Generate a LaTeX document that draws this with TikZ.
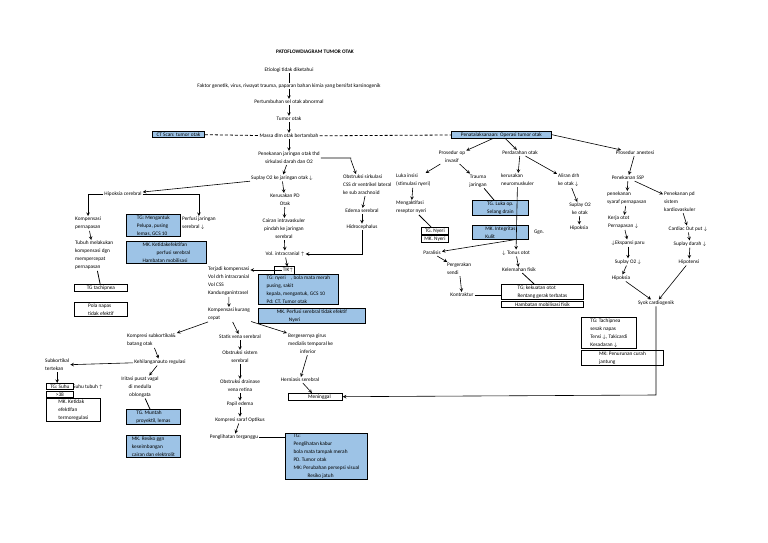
\documentclass[tikz,border=0pt]{standalone}
\usepackage{fontspec}
\setmainfont{Carlito}
\usepackage{tikz}
\usetikzlibrary{arrows}
\definecolor{blu}{RGB}{157,195,230}
\tikzstyle{txt} = [align=center, inner sep=1pt, font=\fontsize{5.3}{8}\selectfont]
\tikzstyle{ltxt} = [align=left, inner sep=1pt, anchor=north west, font=\fontsize{5.3}{8}\selectfont]
\tikzstyle{bx} = [draw=black, thick, align=left, anchor=north west, inner sep=1pt, font=\fontsize{5.3}{8}\selectfont]
\tikzstyle{bbx} = [bx, fill=blu]
\tikzstyle{arrow} = [semithick,->,>=stealth]
\tikzstyle{dashln} = [thick, densely dashed]
\begin{document}
\begin{tikzpicture}[x=1pt,y=-1pt]
\useasboundingbox (0,0) rectangle (768,543);
% tengah
\node (title) [txt, font=\fontsize{5.3}{8}\selectfont\bfseries] at (315,52) {PATOFLOWDIAGRAM TUMOR OTAK};
\node (etio) [txt] at (289,70) {Etiologi tidak diketahui};
\node (faktor) [txt] at (289,86) {Faktor genetik, virus, riwayat trauma, paparan bahan kimia yang bersifat karsinogenik};
\node (tumbuh) [txt] at (289,102) {Pertumbuhan sel otak abnormal};
\node (tumor) [txt] at (289,119) {Tumor otak};
\node (massa) [txt] at (289,136) {Massa dlm otak bertambah};
\node (ct) [bbx, minimum width=52pt] at (152,131) {CT Scan: tumor otak};
\node (ops) [bbx, minimum width=100pt] at (451,131) {Penatalaksanaan: Operasi tumor otak};
\node (tekan) [txt] at (289,158) {Penekanan jaringan otak thd\\sirkulasi darah dan O2};
\node (suplay) [txt] at (282,178) {Suplay O2 ke jaringan otak $\downarrow$};
\node (obs) [ltxt] at (342,174) {Obstruksi sirkulasi\\CSS dr ventrikel lateral\\ke sub arachnoid};
\node (edema) [txt] at (362,211) {Edema serebral};
\node (hidro) [txt] at (362,227) {Hidrocephalus};
\node (hipok) [txt] at (123,194) {Hipoksia cerebral};
\node (rusak) [txt] at (285,200) {Kerusakan PD\\Otak};
\node (cairan) [txt] at (284,229) {Cairan intravaskuler\\pindah ke jaringan\\serebral};
\node (vol) [txt] at (285,254) {Vol. intracranial $\uparrow$};
\node (tik) [txt] at (288,270) {TIK$\uparrow$};
% kiri
\node (kompnap) [ltxt] at (74,216) {Kompensasi\\pernapasan};
\node (tubuh) [ltxt] at (74,240) {Tubuh melakukan\\kompensasi dgn\\mempercepat\\pernapasan};
\node (tgtach) [bx, minimum width=53pt] at (74,284) {TG tachipnea};
\node (pola) [bx, minimum width=53pt] at (74,302) {Pola napas\\tidak efektif};
\node (tgme) [bbx, minimum width=54pt] at (126,214) {TG: Mengantuk\\Pelupa, pusing\\lemas, GCS 10};
\node (mkper) [bbx, minimum width=80pt] at (126,241) {MK. Ketidakefektifan\\\hspace{14pt}perfusi serebral\\Hambatan mobilisasi};
\node (perf) [ltxt] at (181,216) {Perfusi jaringan\\serebral $\downarrow$};
\node (terjadi) [ltxt] at (207,266) {Terjadi kompensasi\\Vol drh intracranial\\Vol CSS\\Kandunganintrasel};
\node (kurang) [ltxt] at (207,307) {Kompensasi kurang\\cepat};
\node (kecil) [bx, minimum width=20pt, minimum height=8pt] at (274,266) {};
\node (tgny) [bbx, minimum width=80pt] at (258,274) {TG: nyeri\quad, bola mata merah\\pusing, sakit\\kepala, mengantuk, GCS 10\\Pd: CT. Tumor otak};
\node (mkny) [bbx, minimum width=107pt] at (258,308) {MK. Perfusi serebral tidak efektif\\\hspace{12pt}Nyeri};
% bawah kiri
\node (kompr) [ltxt] at (126,333) {Kompresi subkortikal\&\\batang otak};
\node (statis) [txt] at (240,337) {Statis vena serebral};
\node (geser) [ltxt] at (287,333) {Bergesernya girus\\medialis temporal ke\\\hspace{12pt}inferior};
\node (hilang) [txt] at (160,362) {Kehilanganauto regulasi};
\node (subk) [ltxt] at (44,358) {Subkortikal\\tertekan};
\node (obsis) [txt] at (240,357) {Obstruksi sistem\\serebral};
\node (herni) [txt] at (300,380) {Herniasis serebral};
\node (irit) [txt] at (140,387) {Iritasi pusat vagal\\di medulla\\oblongata};
\node (obdr) [txt] at (240,386) {Obstruksi drainase\\vena retina};
\node (mati) [bx, minimum width=54pt] at (288,393) {\hspace{8pt}Meninggal};
\node (tgsu) [bx, minimum width=27pt] at (46,383) {TG: Suhu};
\node (tgsu2) [bx, minimum width=27pt] at (46,391) {>38};
\node (suhu) [txt] at (88,387) {Suhu tubuh $\uparrow$};
\node (mksu) [bx, minimum width=54pt] at (46,398) {MK. Ketidak\\efektifan\\termoregulasi};
\node (tgmu) [bbx, minimum width=54pt] at (126,409) {TG. Muntah\\proyektil, lemas};
\node (papil) [txt] at (240,404) {Papil edema};
\node (saraf) [txt] at (240,420) {Kompresi saraf Optikus};
\node (mkres) [bbx, minimum width=54pt] at (126,435) {MK. Resiko ggn\\keseimbangan\\cairan dan elektrolit};
\node (lihat) [txt] at (234,437) {Penglihatan terganggu};
\node (tgli) [bbx, minimum width=82pt] at (285,433) {TG:\\Penglihatan kabur\\bola mata tampak merah\\PD. Tumor otak\\MK: Perubahan persepsi visual\\\hspace{14pt}Resiko jatuh};
% kanan
\node (pros) [txt] at (452,157) {Prosedur op\\invasif};
\node (perd) [txt] at (520,153) {Perdarahan otak};
\node (anes) [txt] at (635,153) {Prosedur anestesi};
\node (luka) [ltxt] at (395,173) {Luka insisi\\(stimulasi nyeri)};
\node (trauma) [txt] at (478,181) {Trauma\\jaringan};
\node (rusnm) [ltxt] at (500,173) {kerusakan\\neuromuskuler};
\node (aliran) [ltxt] at (557,173) {Aliran drh\\ke otak $\downarrow$};
\node (ssp) [txt] at (628,178) {Penekanan SSP};
\node (aktif) [ltxt] at (395,200) {Mengaktifasi\\reseptor nyeri};
\node (tglu) [bbx, minimum width=56pt] at (472,200) {TG. Luka op.\\Selang drain};
\node (mkin) [bbx, minimum width=56pt] at (472,225) {MK. Integritas\\Kulit};
\node (ggn) [txt] at (539,232) {Ggn.};
\node (tgn2) [bx, minimum width=27pt] at (421,227) {TG. Nyeri};
\node (mkn2) [bx, minimum width=27pt] at (421,235) {MK. Nyeri};
\node (sup2) [txt] at (580,209) {Suplay O2\\ke otak};
\node (hip2) [txt] at (579,228) {Hipoksia};
\node (syaraf) [ltxt] at (606,191) {penekanan\\syaraf pernapasan};
\node (kardio) [ltxt] at (663,191) {Penekanan pd\\sistem\\kardiovaskuler};
\node (kerja) [ltxt] at (607,215) {Kerja otot\\Pernapasan $\downarrow$};
\node (cardiac) [txt] at (688,229) {Cardiac Out put $\downarrow$};
\node (eksp) [txt] at (628,243) {$\downarrow$Ekspansi paru};
\node (supdr) [txt] at (690,244) {Suplay darah $\downarrow$};
\node (sup3) [txt] at (628,262) {Suplay O2 $\downarrow$};
\node (hipot) [txt] at (689,262) {Hipotensi};
\node (hip3) [txt] at (621,278) {Hipoksia};
\node (syok) [txt] at (656,303) {Syok cardiogenik};
\node (paral) [txt] at (432,253) {Paralisis};
\node (tonus) [txt] at (516,253) {$\downarrow$ Tonus otot};
\node (gerak) [ltxt] at (446,262) {Pergerakan\\sendi};
\node (lemah) [txt] at (519,270) {Kelemahan fisik};
\node (kontr) [txt] at (462,295) {Kontraktur};
\node (tgke) [bx, minimum width=82pt] at (501,284) {TG; kekuatan otot\\Rentang gerak terbatas};
\node (hamb) [bx, minimum width=82pt] at (501,301) {Hambatan mobilisasi fisik};
\node (tgta) [bx, minimum width=55pt] at (581,317) {TG: Tachipnea\\sesak napas\\Tensi $\downarrow$, Takicardi\\Kesadaran $\downarrow$};
\node (mkpe) [bx, minimum width=82pt] at (581,350) {MK: Penurunan curah\\jantung};
% panah tengah
\draw[thick] (etio) -- (faktor);
\draw[arrow] (faktor) -- (tumbuh);
\draw[arrow] (tumbuh) -- (tumor);
\draw[arrow] (tumor) -- (massa);
\draw[dashln] (ct) -- (massa);
\draw[dashln] (massa) -- (ops);
\draw[arrow] (massa) -- (tekan);
\draw[arrow] (tekan) -- (suplay);
\draw[arrow] (tekan.east) -- ++(30,0) -- ++(0,2) -- (obs.north -| 356,0);
\draw[arrow] (obs) -- (edema);
\draw[arrow] (edema) -- (hidro);
\draw[arrow] (hidro) |- (vol.east);
\draw[arrow] (suplay) -- (hipok);
\draw[arrow] (suplay) -- (rusak);
\draw[arrow] (rusak) -- (cairan);
\draw[arrow] (cairan) -- (vol);
\draw[arrow] (vol) -- (tik);
\draw[arrow] (tik) -- (terjadi.east |- tik);
\draw[arrow] (hipok) -| (kompnap.north);
\draw[arrow] (hipok) -| (perf.north);
\draw[arrow] (kompnap) -- (tubuh);
\draw[thick] (tubuh) -- (tgtach);
\draw[arrow] (terjadi) -- (kurang);
\draw[arrow] (kurang) -- (kompr.north east);
\draw[arrow] (kurang) -- (statis);
\draw[arrow] (kurang) -- (geser.north west);
\draw[arrow] (kompr) -- (hilang);
\draw[arrow] (hilang) -- (subk);
\draw[arrow] (hilang) -- (irit);
\draw[arrow] (subk) -- (subk |- tgsu.north);
\draw[thick] (irit) -- (tgmu);
\draw[arrow] (statis) -- (obsis);
\draw[arrow] (obsis) -- (obdr);
\draw[arrow] (obdr) -- (papil);
\draw[arrow] (papil) -- (saraf);
\draw[arrow] (saraf) -- (lihat);
\draw[thick] (lihat) -- (tgli.west |- lihat);
\draw[arrow] (geser) -- (herni);
\draw[arrow] (herni) -- (mati);
% panah kanan
\draw[arrow] (ops) -- (pros);
\draw[arrow] (ops) -- (perd);
\draw[arrow] (ops.east) -- (anes);
\draw[arrow] (pros) -- (luka);
\draw[arrow] (pros) -- (trauma);
\draw[arrow] (perd) -- (rusnm);
\draw[arrow] (perd) -- (aliran);
\draw[arrow] (luka) -- (aktif);
\draw[thick] (aktif) -- (tgn2);
\draw[thick] (trauma) -- (tglu);
\draw[arrow] (aliran) -- (sup2);
\draw[arrow] (sup2) -- (hip2);
\draw[arrow] (anes) -- (ssp);
\draw[arrow] (ssp) -- (syaraf);
\draw[arrow] (ssp) -- (kardio);
\draw[arrow] (syaraf) -- (kerja);
\draw[arrow] (kerja) -- (eksp);
\draw[arrow] (eksp) -- (sup3);
\draw[arrow] (sup3) -- (hip3);
\draw[arrow] (kardio) -- (cardiac);
\draw[arrow] (cardiac) -- (supdr);
\draw[arrow] (supdr) -- (hipot);
\draw[arrow] (hip3) -- (syok);
\draw[arrow] (hipot) -- (syok);
\draw[arrow] (rusnm) -- (tonus);
\draw[arrow] (tonus |- mkin.south) -- (paral);
\draw[arrow] (paral) -- (gerak);
\draw[arrow] (gerak) -- (kontr);
\draw[arrow] (tonus) -- (lemah);
\draw[thick] (lemah) -- (tgke);
\draw[thick] (kontr) -- (tgke.west |- kontr);
\draw[arrow] (syok) -- (syok |- 0,395) -- (mati.east);
\end{tikzpicture}
\end{document}
